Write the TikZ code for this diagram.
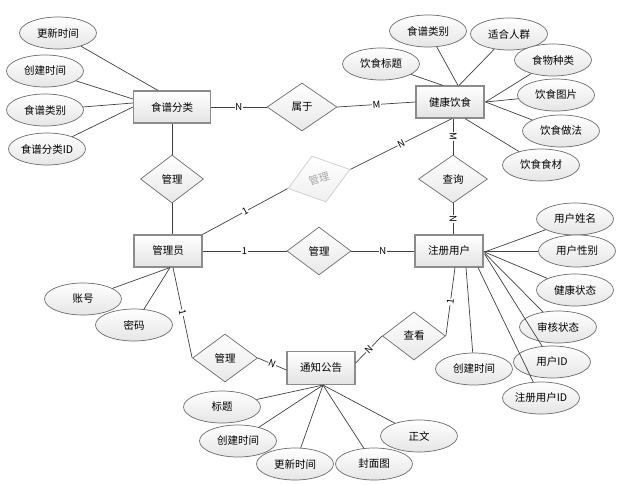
\documentclass[tikz,border=0pt]{standalone}
\usepackage{fontspec}
\setmainfont{Noto Sans CJK SC}
\usetikzlibrary{shapes.geometric,calc}
\begin{document}
\begin{tikzpicture}[x=1pt,y=-1pt,
  txt/.style={font=\fontsize{10.5}{12}\selectfont},
  ent/.style={txt,draw=gray!90,line width=1.1pt,rectangle,minimum width=68pt,minimum height=32pt,inner sep=0pt,top color=white,bottom color=gray!22},
  attr/.style={txt,draw=gray!85!black,line width=0.7pt,ellipse,minimum width=77pt,minimum height=32pt,inner sep=0pt,top color=white,bottom color=gray!20},
  rel/.style={txt,draw=gray!85!black,line width=0.7pt,diamond,minimum width=65pt,minimum height=48pt,inner sep=0pt,top color=white,bottom color=gray!18},
  faded/.style={txt,draw=gray!40,text=gray!70,line width=0.7pt,diamond,minimum width=65pt,minimum height=48pt,inner sep=0pt,top color=white,bottom color=gray!12},
  conn/.style={draw=black!75,line width=0.7pt},
  card/.style={font=\fontsize{9.5}{10}\selectfont,fill=white,inner sep=0.6pt,sloped,midway}
]
\useasboundingbox (0,0) rectangle (622,485);

% entities
\node[ent,minimum width=77pt] (fc) at (172,107) {食谱分类};
\node[ent] (jk) at (450,102) {健康饮食};
\node[ent] (gly) at (168,251) {管理员};
\node[ent] (zc) at (449,251) {注册用户};
\node[ent,minimum height=33pt] (tz) at (321,368) {通知公告};

% relationships
\node[rel,minimum width=70pt] (sy) at (302,107) {属于};
\node[rel,minimum width=63pt] (gl1) at (172,179) {管理};
\node[faded,rotate=17] (gl2) at (319,179) {管理};
\node[rel,minimum width=69pt] (cx) at (453,179) {查询};
\node[rel,minimum width=64pt] (gl3) at (319,251) {管理};
\node[rel] (gl4) at (225,358) {管理};
\node[rel,minimum width=63pt] (ck) at (414,336) {查看};

% attributes of 食谱分类
\node[attr] (a1) at (58,33) {更新时间};
\node[attr] (a2) at (45,71) {创建时间};
\node[attr] (a3) at (45,110) {食谱类别};
\node[attr] (a4) at (47,149) {食谱分类ID};

% attributes of 健康饮食
\node[attr] (b1) at (381,64) {饮食标题};
\node[attr] (b2) at (428,31) {食谱类别};
\node[attr] (b3) at (509,34) {适合人群};
\node[attr] (b4) at (553,60) {食物种类};
\node[attr] (b5) at (556,95) {饮食图片};
\node[attr] (b6) at (561,131) {饮食做法};
\node[attr] (b7) at (541,165) {饮食食材};

% attributes of 注册用户
\node[attr] (c1) at (575,219) {用户姓名};
\node[attr] (c2) at (577,251) {用户性别};
\node[attr] (c3) at (575,290) {健康状态};
\node[attr] (c4) at (558,327) {审核状态};
\node[attr] (c5) at (552,362) {用户ID};
\node[attr] (c6) at (541,398) {注册用户ID};
\node[attr] (c7) at (474,369) {创建时间};

% attributes of 管理员
\node[attr] (d1) at (83,299) {账号};
\node[attr] (d2) at (134,325) {密码};

% attributes of 通知公告
\node[attr] (e1) at (222,407) {标题};
\node[attr] (e2) at (238,441) {创建时间};
\node[attr] (e3) at (295,464) {更新时间};
\node[attr] (e4) at (374,464) {封面图};
\node[attr] (e5) at (419,436) {正文};

% attribute connectors
\draw[conn] (a1) -- ($(fc.north west)+(25,0)$);
\draw[conn] (a2) -- ($(fc.west)+(0,-8)$);
\draw[conn] (a3) -- ($(fc.west)+(0,-4)$);
\draw[conn] (a4) -- (fc.west);

\draw[conn] (b1) -- ($(jk.north)+(-7,0)$);
\draw[conn] (b2) -- ($(jk.north)+(8,0)$);
\draw[conn] (b3) -- ($(jk.north)+(9,0)$);
\draw[conn] (b4) -- ($(jk.east)+(1,0)$);
\draw[conn] (b5) -- ($(jk.east)+(1,0)$);
\draw[conn] (b6) -- ($(jk.east)+(1,0)$);
\draw[conn] (b7) -- ($(jk.south)+(15,0)$);

\draw[conn] (c1) -- ($(zc.east)+(1,1)$);
\draw[conn] (c2) -- (zc.east);
\draw[conn] (c3) -- ($(zc.east)+(1,1)$);
\draw[conn] (c4) -- ($(zc.east)+(1,2)$);
\draw[conn] (c5) -- ($(zc.east)+(1,3)$);
\draw[conn] (c6) -- ($(zc.south)+(29,0)$);
\draw[conn] (c7) -- ($(zc.south)+(17,0)$);

\draw[conn] (d1) -- ($(gly.south)+(2,0)$);
\draw[conn] (d2) -- ($(gly.south)+(2,0)$);

\draw[conn] (e1) -- ($(tz.south)+(2,0)$);
\draw[conn] (e2) -- ($(tz.south)+(2,0)$);
\draw[conn] (e3) -- ($(tz.south)+(2,0)$);
\draw[conn] (e4) -- ($(tz.south)+(2,0)$);
\draw[conn] (e5) -- ($(tz.south)+(2,0)$);

% relationship connectors
\draw[conn] (fc.east) -- node[card] {N} (sy.west);
\draw[conn] (sy.east) -- node[card] {M} (jk.west);
\draw[conn] (fc.south -| gl1.north) -- (gl1.north);
\draw[conn] (gl1.south) -- (gl1.south |- gly.north);
\draw[conn] (gly.north east) -- node[card] {1} (gl2.west);
\draw[conn] (gl2.east) -- node[card] {N} ($(jk.south)+(2,0)$);
\draw[conn] (cx.north |- jk.south) -- node[card] {M} (cx.north);
\draw[conn] (cx.south) -- node[card] {N} (cx.south |- zc.north);
\draw[conn] (gly.east) -- node[card] {1} (gl3.west);
\draw[conn] (gl3.east) -- node[card] {N} (zc.west);
\draw[conn] ($(gly.south)+(5,0)$) -- node[card] {1} (gl4.west);
\draw[conn] (gl4.east) -- node[card] {N} ($(tz.west)+(0,2)$);
\draw[conn] ($(tz.east)+(0,-5)$) -- node[card] {N} (ck.west);
\draw[conn] (ck.east) -- node[card] {1} ($(zc.south)+(6,0)$);
\end{tikzpicture}
\end{document}
